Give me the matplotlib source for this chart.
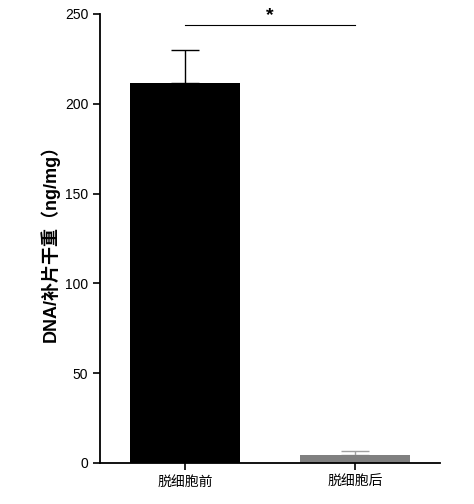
import matplotlib.pyplot as plt

plt.rcParams['font.family'] = ['Liberation Sans', 'Noto Sans CJK SC', 'DejaVu Sans']

groups = ["脱细胞前", "脱细胞后"]
means = [211.5, 4.2]
errs = [18.5, 2.6]
colors = ["black", "#808080"]

fig = plt.figure(figsize=(4.74, 5.04), dpi=100)
ax = fig.add_axes([100 / 474, (504 - 463) / 504, 340 / 474, 449 / 504])

x = [0, 1]
ax.bar(x, means, width=0.65, color=colors, zorder=2)
for xi, m, e, c in zip(x, means, errs, colors):
    ax.errorbar(xi, m, yerr=[[0], [e]], color=c if xi == 0 else "#a0a0a0",
                capsize=10, capthick=1, elinewidth=1, zorder=1)

ax.set_xlim(-0.5, 1.5)
ax.set_ylim(0, 250)
ax.set_yticks([0, 50, 100, 150, 200, 250])
ax.set_xticks(x)
ax.set_xticklabels(groups, fontsize=10)
ax.tick_params(labelsize=10, width=1.2, length=5)
for s in ["top", "right"]:
    ax.spines[s].set_visible(False)
ax.spines["left"].set_linewidth(1.3)
ax.spines["bottom"].set_linewidth(1.3)
ax.set_ylabel("DNA/补片干重（ng/mg）", fontsize=13, fontweight="bold")

# significance bracket
ax.plot([0, 1], [244, 244], color="black", lw=0.8, clip_on=False)
ax.text(0.5, 244.5, "*", ha="center", va="bottom", fontsize=14, fontweight="bold")

fig.savefig("out.png", dpi=100)
